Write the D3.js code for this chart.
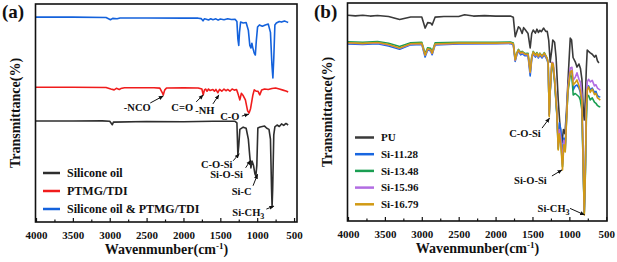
<!DOCTYPE html>
<html>
<head>
<meta charset="utf-8">
<script src="https://cdn.jsdelivr.net/npm/d3@7"></script>
<style>
body { margin: 0; background: #fff; }
svg text { font-family: "Liberation Serif", "Times New Roman", serif; font-weight: bold; fill: #111; }
</style>
</head>
<body>
<script>
// ---------- data (wavenumber cm-1, relative transmittance) ----------
var majorTicks = [4000, 3500, 3000, 2500, 2000, 1500, 1000, 500];
var minorTicks = [3750, 3250, 2750, 2250, 1750, 1250, 750];

// panel (a)
var siliconeOil = [[4000,46.3],[3500,46.3],[3100,46.4],[3000,46.2],[2965,44.6],[2950,45.8],[2500,46.1],
  [2000,46.0],[1600,46.2],[1300,46.2],[1275,45.5],[1262,30.7],[1250,35],[1235,42.5],[1190,43.5],[1150,43],
  [1120,38],[1100,30],[1085,24.8],[1070,28],[1050,26],[1030,22],[1018,21.1],[1005,26],[991,43.1],[960,43.6],
  [900,44.0],[870,43.0],[840,42.5],[820,38],[805,15],[798,6.9],[790,15],[775,40],[760,43.6],[730,44.5],
  [700,43.8],[670,45],[640,44.3],[610,45.2],[580,44.5]];

var ptmgTdi = [[4000,61.8],[3500,61.8],[3050,61.7],[2985,61.0],[2940,60.6],[2910,61.3],[2870,60.8],[2850,61.2],
  [2800,61.6],[2400,61.6],[2320,61.4],[2290,59.5],[2274,58.3],[2255,60.5],[2230,61.5],[2000,61.6],[1800,61.5],
  [1750,61],[1732,58.3],[1715,60.6],[1700,61.0],[1680,60.0],[1660,61.0],[1640,60.3],[1600,60.8],[1580,60.0],
  [1560,60.8],[1533,59.3],[1510,60.8],[1480,60.0],[1450,61.0],[1420,60.2],[1400,60.8],[1370,60.0],[1340,61.0],
  [1310,60.5],[1280,60.8],[1262,59.0],[1235,56.0],[1215,59],[1190,58],[1160,56],[1130,51],[1110,50.0],
  [1090,52],[1060,58],[1040,60.6],[1015,60],[990,60],[965,58.3],[940,60.5],[900,61],[850,60.8],[800,61.2],
  [750,61.5],[700,61.0],[650,60.5],[600,60.0],[580,59.6]];

var siliconePtmg = [[4000,94.0],[3500,94.0],[3050,93.8],[2990,92.8],[2960,93.4],[2900,93.2],[2860,93.6],
  [2500,93.6],[2000,93.5],[1800,93.5],[1760,93.3],[1735,92.3],[1715,93.2],[1690,93.0],[1660,92.7],[1630,93.2],
  [1600,92.8],[1560,93.2],[1530,92.6],[1500,93.1],[1450,92.8],[1400,93.2],[1350,92.9],[1300,93.0],[1275,92.0],
  [1262,84.0],[1250,81.0],[1240,87],[1225,91.7],[1190,91.3],[1150,91.5],[1120,88],[1100,81],[1085,79.8],
  [1072,82],[1060,80],[1040,77.5],[1025,76.6],[1012,83],[995,89.4],[970,90.4],[930,89.8],[890,90.4],
  [850,90.8],[820,87],[800,72],[787,66.1],[775,75],[760,90.4],[740,91.3],[700,92.0],[670,91.7],[630,92.2],
  [600,91.8],[580,91.5]];

// panel (b)
var pu = [[4000,94.4],[3900,94.1],[3800,94.4],[3700,94.0],[3600,94.3],[3450,93.8],[3300,92.4],[3150,93.6],
  [3000,93.6],[2955,88.5],[2920,91],[2880,90.8],[2860,89.9],[2820,93.5],[2700,93.8],[2500,93.8],[2420,94.6],
  [2300,94.0],[2150,94.2],[2000,94.0],[1800,94.0],[1760,93.5],[1734,84.5],[1710,87],[1690,89.1],[1670,88.5],
  [1640,86],[1620,88.7],[1600,87.8],[1560,86],[1531,79.4],[1510,86],[1490,87.6],[1460,86.2],[1440,88],
  [1420,86.5],[1400,87.5],[1380,86.8],[1350,88.5],[1320,87],[1300,87],[1280,83],[1260,72.9],[1240,78],
  [1225,83.0],[1200,82],[1180,75],[1150,55],[1120,40],[1100,36],[1080,42],[1060,40],[1040,50],[1010,70],
  [988,83.9],[970,83.0],[950,75],[920,73],[897,70.6],[870,72],[850,70],[830,65],[810,50],[798,46.3],[785,55],
  [770,70],[758,78.4],[740,77.8],[717,77.1],[690,76.5],[660,75.2],[640,76],[620,73.5],[600,72.5]];

var siWave = [4000,3800,3600,3450,3300,3150,3000,2955,2920,2880,2860,2820,2500,2000,1800,1760,1734,1710,
  1690,1660,1640,1600,1560,1531,1510,1490,1460,1440,1420,1400,1370,1340,1300,1287,1273,1260,1237,1219,1200,
  1170,1151,1135,1115,1093,1075,1056,1040,1020,988,965,948,920,897,870,852,830,812,798,785,770,758,740,717,
  690,660,640,620,600,581];

var si1128 = [81.2,81.0,81.3,80.3,78.8,80.8,81.0,75.2,78.5,78.0,76.3,80.7,81.2,81.3,81.4,80.9,73.2,76.5,
  77.8,76.2,76.8,75.8,75.8,66.5,74.2,76.9,75.2,76.4,74.8,76.0,74.8,76.3,73.8,71.8,49.0,59.0,71.8,71.0,64.0,
  49.0,36.0,45.0,42.0,28.0,38.0,35.0,47.0,60.5,68.8,68.5,60.1,62.0,62.4,61.0,59.0,53.0,24.0,4.0,21.0,50.0,
  61.0,62.0,60.1,61.0,59.0,59.5,57.5,57.0,56.9];
var si1348 = [82.2,82.0,82.3,81.5,80.0,81.8,82.0,76.8,79.5,79.2,77.6,81.7,82.0,82.0,82.1,81.6,74.3,77.3,
  78.7,77.3,77.8,76.8,76.9,68.8,75.4,77.8,76.3,77.3,75.8,77.0,75.7,77.2,74.6,72.0,48.5,59.5,72.0,71.0,64.0,
  49.5,33.0,41.0,36.0,25.0,36.0,32.5,45.5,59.0,67.0,66.0,57.8,58.5,57.8,57.0,55.5,51.0,23.0,3.5,19.0,46.0,
  57.8,57.5,55.5,56.5,54.5,54.0,53.0,52.5,52.3];
var si1596 = [81.6,81.3,81.7,80.8,79.2,81.1,81.3,76.0,78.8,78.4,76.8,81.0,81.4,81.4,81.6,81.1,73.7,76.8,
  78.2,76.8,77.3,76.3,76.3,68.0,74.8,77.3,75.8,76.8,75.3,76.6,75.3,76.8,74.3,72.3,48.5,60.0,72.8,72.5,65.5,
  51.0,34.0,42.0,38.0,26.0,37.0,33.0,46.0,61.0,70.2,70.5,64.5,66.0,68.0,65.0,63.8,58.0,26.0,4.5,22.0,53.0,
  63.8,65.0,63.8,64.5,62.0,62.5,61.0,60.5,60.1];
var si1679 = [81.8,81.5,81.9,81.0,79.4,81.3,81.5,76.1,79.0,78.6,77.0,81.2,81.6,81.6,81.8,81.3,73.9,77.0,
  78.4,77.0,77.5,76.5,76.5,68.3,75.0,77.5,76.0,77.0,75.5,76.8,75.5,77.0,74.5,72.5,47.8,60.0,72.5,72.0,65.0,
  50.0,32.6,40.0,35.0,23.4,35.0,31.7,45.0,60.0,68.3,69.0,62.4,63.5,64.7,62.0,60.0,55.0,25.0,2.8,20.0,50.0,
  60.1,61.5,59.0,60.5,58.0,58.5,56.5,56.0,55.5];

var namesA = ["Silicone oil", "PTMG/TDI", "Silicone oil & PTMG/TDI"];
var namesB = ["PU", "Si-11.28", "Si-13.48", "Si-15.96", "Si-16.79"];

// peak labels: text, wavenumber, value
var peaksA = [["-NCO", 2274, 57.8], ["C=O", 1732, 58.3], ["-NH", 1519, 58.3], ["C-O", 1113, 49.5],
  ["C-O-Si", 1244, 31.3], ["Si-O-Si", 1089, 28.3], ["Si-C", 995, 21.9], ["Si-CH3", 774, 7.3]];
var peaksB = [["C-O-Si", 1269, 47.2], ["Si-O-Si", 1101, 23.4], ["Si-CH3", 794, 2.8]];

// ---------- drawing ----------
var width = 617, height = 262;
var svg = d3.select("body").append("svg").attr("width", width).attr("height", height);
svg.append("rect").attr("width", width).attr("height", height).attr("fill", "#fff");

var defs = svg.append("defs");
defs.append("marker").attr("id", "arr")
  .attr("viewBox", "0 0 10 10").attr("refX", 9).attr("refY", 5)
  .attr("markerWidth", 5).attr("markerHeight", 5).attr("orient", "auto")
  .append("path").attr("d", "M0,1L10,5L0,9z").attr("fill", "#111");

// label offsets (label centre, arrow tail) relative to the arrow tip, px
var offA = [[-26, 11, -13, 7], [-21, 12, -7, 7], [-14, 15.5, -6, 9], [-19, 2.5, -7, 2],
  [-22.5, 10.5, -6, 7], [-24, 14.5, -5, 7.5], [-16, 17.5, -4.5, 11.5], [-25.5, 6, -7.5, 3]];
var offB = [[-24.5, 15, -7.5, 10], [-31.5, 10, -10, 6], [-31, -6.5, -14.5, -6.5]];

function peakText(sel, t) {
  if (t.slice(-1) == "3") {
    sel.text(t.slice(0, -1));
    sel.append("tspan").attr("dy", 3).style("font-size", "8px").text("3");
  } else {
    sel.text(t);
  }
}

function drawPanel(p) {
  var x = d3.scaleLinear().domain(p.xDomain).range([p.left, p.right]);
  var y = d3.scaleLinear().domain([0, 100]).range([p.bottom, p.top]);
  var g = svg.append("g");

  var line = d3.line().x(function(d) { return x(d[0]); }).y(function(d) { return y(d[1]); });

  p.series.forEach(function(s) {
    g.append("path").datum(s.data)
      .attr("d", line)
      .attr("fill", "none")
      .attr("stroke", s.color)
      .attr("stroke-width", 1.6)
      .attr("stroke-linejoin", "round");
  });

  // axes with inward ticks
  var ax = g.append("g").attr("transform", "translate(0," + p.bottom + ")")
    .call(d3.axisBottom(x).tickValues(majorTicks).tickSizeInner(-4).tickSizeOuter(0)
      .tickPadding(9).tickFormat(d3.format("d")));
  ax.select(".domain").remove();
  ax.attr("font-family", null);
  ax.selectAll("text").style("font-size", "11px");
  ax.selectAll("line").attr("stroke", "#111").attr("stroke-width", 1.2);

  var axm = g.append("g").attr("transform", "translate(0," + p.bottom + ")")
    .call(d3.axisBottom(x).tickValues(minorTicks).tickSizeInner(-2.5).tickSizeOuter(0).tickFormat(""));
  axm.select(".domain").remove();
  axm.selectAll("line").attr("stroke", "#111").attr("stroke-width", 1.2);

  g.append("rect")
    .attr("x", p.left - 0.5).attr("y", p.top)
    .attr("width", p.right - p.left + 0.5).attr("height", p.bottom - p.top)
    .attr("fill", "none").attr("stroke", "#111").attr("stroke-width", 1.6);

  // titles
  var xt = g.append("text")
    .attr("x", (p.left + p.right) / 2).attr("y", p.bottom + 32)
    .attr("text-anchor", "middle").style("font-size", "14px")
    .text("Wavenmunber(cm");
  xt.append("tspan").attr("dy", -5).style("font-size", "9px").text("-1");
  xt.append("tspan").attr("dy", 5).text(")");

  g.append("text")
    .attr("transform", "translate(" + (p.left - 16) + "," + ((p.top + p.bottom) / 2) + ") rotate(-90)")
    .attr("text-anchor", "middle").style("font-size", "14px")
    .text("Transmittance(%)");

  g.append("text")
    .attr("x", p.left - 34).attr("y", 18)
    .style("font-size", "19px")
    .text(p.tag);

  // peak annotations
  p.peaks.forEach(function(pk, i) {
    var o = p.offsets[i];
    var tx = x(pk[1]), ty = y(pk[2]);
    g.append("line")
      .attr("x1", tx + o[2]).attr("y1", ty + o[3])
      .attr("x2", tx).attr("y2", ty)
      .attr("stroke", "#111").attr("stroke-width", 1)
      .attr("marker-end", "url(#arr)");
    var t = g.append("text")
      .attr("x", tx + o[0]).attr("y", ty + o[1])
      .attr("dy", "0.35em")
      .attr("text-anchor", "middle")
      .style("font-size", "10.5px");
    peakText(t, pk[0]);
  });

  // legend
  var leg = g.selectAll(".legend")
    .data(p.series.slice().sort(function(a, b) { return a.order - b.order; }))
    .enter().append("g")
    .attr("transform", function(d, i) {
      return "translate(" + p.legX + "," + (p.legY + i * p.legStep) + ")";
    });
  leg.append("line")
    .attr("x1", 0).attr("x2", p.legLen)
    .attr("stroke", function(d) { return d.color; })
    .attr("stroke-width", 2.5);
  leg.append("text")
    .attr("x", p.legLen + 7).attr("dy", "0.35em")
    .style("font-size", p.legFont)
    .text(function(d) { return d.name; });
}

drawPanel({
  tag: "(a)", left: 36, right: 297, top: 4, bottom: 222, xDomain: [4000, 460],
  series: [
    {name: namesA[2], color: "#1462dc", data: siliconePtmg, order: 2},
    {name: namesA[1], color: "#f01c1c", data: ptmgTdi, order: 1},
    {name: namesA[0], color: "#2e2e2e", data: siliconeOil, order: 0}
  ],
  peaks: peaksA, offsets: offA,
  legX: 43, legY: 173, legStep: 18, legLen: 17, legFont: "12px"
});

drawPanel({
  tag: "(b)", left: 348, right: 607, top: 3, bottom: 221, xDomain: [4000, 490],
  series: [
    {name: namesB[0], color: "#3a3a3a", data: pu, order: 0},
    {name: namesB[1], color: "#1866e0", data: d3.zip(siWave, si1128), order: 1},
    {name: namesB[2], color: "#1a9e52", data: d3.zip(siWave, si1348), order: 2},
    {name: namesB[3], color: "#b26ce2", data: d3.zip(siWave, si1596), order: 3},
    {name: namesB[4], color: "#d19a14", data: d3.zip(siWave, si1679), order: 4}
  ],
  peaks: peaksB, offsets: offB,
  legX: 355, legY: 137.5, legStep: 16.7, legLen: 19, legFont: "11px"
});
</script>
</body>
</html>
